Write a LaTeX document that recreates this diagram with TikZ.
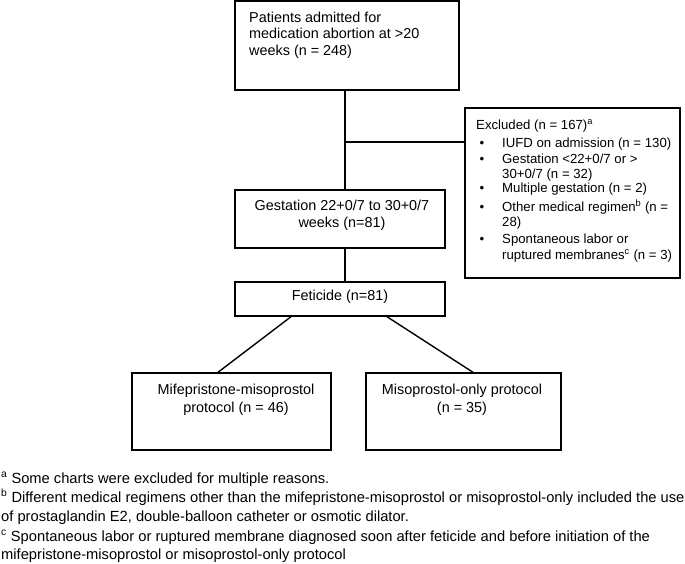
\documentclass[tikz,border=0pt]{standalone}
\usepackage{fontspec}
\setmainfont{Liberation Sans}
\begin{document}
\begin{tikzpicture}[x=1pt,y=-1pt,
  box/.style={draw, line width=1.4pt, rectangle, inner sep=0pt},
  conn/.style={line width=1.4pt},
  txt/.style={inner sep=0pt, font=\fontsize{14.4}{17}\selectfont},
  etxt/.style={inner sep=0pt, font=\fontsize{13.2}{16}\selectfont, anchor=base west},
  lt/.style={txt, anchor=base west},
  ct/.style={txt, anchor=base},
  ft/.style={inner sep=0pt, font=\fontsize{14.7}{17}\selectfont, anchor=base west}]
\useasboundingbox (0,0) rectangle (685,563);
% boxes
\node[box, minimum width=224pt, minimum height=89pt] (top) at (347,45.5) {};
\node[box, minimum width=215pt, minimum height=170pt] (excl) at (572.5,193) {};
\node[box, minimum width=210pt, minimum height=58pt] (gest) at (340,219) {};
\node[box, minimum width=210pt, minimum height=34pt] (fet) at (340,299) {};
\node[box, minimum width=199pt, minimum height=77pt] (left) at (231.5,411.5) {};
\node[box, minimum width=195pt, minimum height=77pt] (right) at (463.5,411.5) {};
% texts
\node[lt] (t1) at (249,22) {Patients admitted for};
\node[lt] (t2) at (249,38.5) {medication abortion at >20};
\node[lt] (t3) at (249,55) {weeks (n = 248)};
\node[ct] (g1) at (342,210) {Gestation 22+0/7 to 30+0/7};
\node[ct] (g2) at (342,227) {weeks (n=81)};
\node[ct] (f1) at (340,300) {Feticide (n=81)};
\node[ct] (l1) at (236,394) {Mifepristone-misoprostol};
\node[ct] (l2) at (236,412) {protocol (n = 46)};
\node[ct] (r1) at (462,394) {Misoprostol-only protocol};
\node[ct] (r2) at (462,412) {(n = 35)};
% excluded list
\node[etxt] (e0) at (476,129) {Excluded (n = 167)\textsuperscript{a}};
\foreach \yy/\nm in {147/b1,163/b2,192/b3,211/b4,243/b5}
  \node[etxt, anchor=base] (\nm) at (482,\yy) {\textbullet};
\node[etxt] (e1) at (502,147) {IUFD on admission (n = 130)};
\node[etxt] (e2) at (502,163) {Gestation <22+0/7 or >};
\node[etxt] (e2b) at (502,178) {30+0/7 (n = 32)};
\node[etxt] (e3) at (502,192) {Multiple gestation (n = 2)};
\node[etxt] (e4) at (502,211) {Other medical regimen\textsuperscript{b} (n =};
\node[etxt] (e4b) at (502,226.5) {28)};
\node[etxt] (e5) at (502,243) {Spontaneous labor or};
\node[etxt] (e5b) at (502,259) {ruptured membranes\textsuperscript{c} (n = 3)};
% connectors
\coordinate (j) at (345,142);
\draw[conn] (top.south -| j) -- (gest.north -| j);
\draw[conn] (j) -- (excl.west |- j);
\draw[conn] (gest.south -| j) -- (fet.north -| j);
\draw[conn] ([xshift=-49pt]fet.south) -- ([xshift=-13.5pt]left.north);
\draw[conn] ([xshift=47pt]fet.south) -- ([xshift=9.5pt]right.north);
% footnotes
\node[ft] (n1) at (1,483) {\textsuperscript{a} Some charts were excluded for multiple reasons.};
\node[ft] (n2) at (1,502) {\textsuperscript{b} Different medical regimens other than the mifepristone-misoprostol or misoprostol-only included the use};
\node[ft] (n3) at (1,521) {of prostaglandin E2, double-balloon catheter or osmotic dilator.};
\node[ft] (n4) at (1,541) {\textsuperscript{c} Spontaneous labor or ruptured membrane diagnosed soon after feticide and before initiation of the};
\node[ft] (n5) at (1,559) {mifepristone-misoprostol or misoprostol-only protocol};
\end{tikzpicture}
\end{document}
